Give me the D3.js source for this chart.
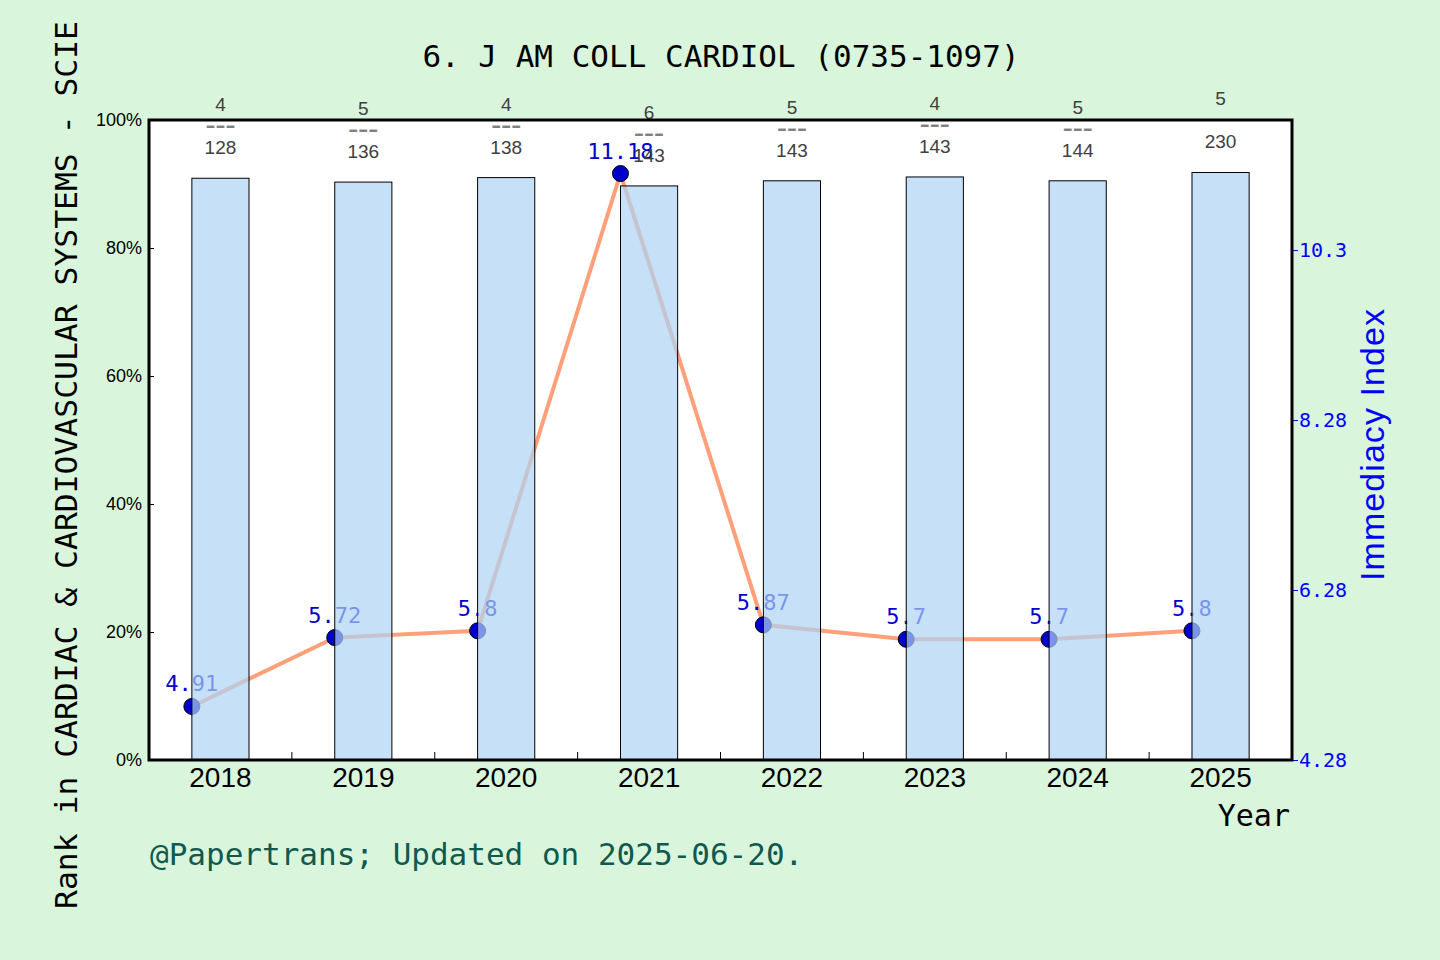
<!doctype html>
<html lang="en">
  <head>
    <meta charset="UTF-8" />
    <title>J AM COLL CARDIOL rank and immediacy index</title>
    <script src="https://d3js.org/d3.v7.min.js"></script>
    <style>
      body {
        margin: 0;
        background: #d9f6dd;
      }
      .mono {
        font-family: 'DejaVu Sans Mono', monospace;
      }
      .sans {
        font-family: 'Liberation Sans', Arial, sans-serif;
      }
      .left-axis .tick text {
        font-family: 'Liberation Sans', Arial, sans-serif;
        font-size: 18px;
        fill: #000;
      }
      .right-axis .tick text {
        font-family: 'DejaVu Sans Mono', monospace;
        font-size: 20px;
        fill: #0000ff;
      }
      .right-axis .tick line {
        stroke: #0000ff;
      }
      .x-axis .tick text {
        font-family: 'Liberation Sans', Arial, sans-serif;
        font-size: 28px;
        fill: #000;
      }
    </style>
  </head>
  <body>
    <svg id="chart"></svg>
    <script>
      // values
      const years = ['2018', '2019', '2020', '2021', '2022', '2023', '2024', '2025']
      const ranks = [4, 5, 4, 6, 5, 4, 5, 5]
      const totals = [128, 136, 138, 143, 143, 143, 144, 230]
      const dashes = ['---', '---', '---', '---', '---', '---', '---', '']
      const rankPct = [90.9, 90.3, 91.0, 89.7, 90.5, 91.1, 90.5, 91.8]
      const immediacy = [4.91, 5.72, 5.8, 11.18, 5.87, 5.7, 5.7, 5.8]
      const pctTicks = [0, 20, 40, 60, 80, 100]
      const immTicks = [4.28, 6.28, 8.28, 10.28]
      const immDomain = [4.28, 11.81]

      const W = 1440
      const H = 960
      const margin = { top: 120, right: 148, bottom: 200, left: 149 }
      const width = W - margin.left - margin.right
      const height = H - margin.top - margin.bottom

      const root = d3.select('#chart').attr('width', W).attr('height', H)
      root.append('rect').attr('width', W).attr('height', H).attr('fill', '#d9f6dd')

      const svg = root.append('g').attr('transform', `translate(${margin.left},${margin.top})`)

      const x = d3.scaleBand().domain(years).range([0, width]).paddingInner(0).paddingOuter(0)
      const y = d3.scaleLinear().domain([0, 100]).range([height, 0])
      const y2 = d3.scaleLinear().domain(immDomain).range([height, 0])

      const barW = x.step() * 0.4
      const ptX = (i) => x(years[i]) + x.bandwidth() / 2 - barW / 2

      svg.append('rect').attr('width', width).attr('height', height).attr('fill', '#fff')

      // immediacy line
      const line = d3
        .line()
        .x((d, i) => ptX(i))
        .y((d) => y2(d))
      svg
        .append('path')
        .datum(immediacy)
        .attr('d', line)
        .attr('fill', 'none')
        .attr('stroke', '#ffa07a')
        .attr('stroke-width', 4)

      svg
        .selectAll('.pt')
        .data(immediacy)
        .enter()
        .append('circle')
        .attr('class', 'pt')
        .attr('cx', (d, i) => ptX(i))
        .attr('cy', (d) => y2(d))
        .attr('r', 8)
        .attr('fill', '#0000cd')
        .attr('stroke', '#000')
        .attr('stroke-width', 1)

      svg
        .selectAll('.pt-label')
        .data(immediacy)
        .enter()
        .append('text')
        .attr('class', 'pt-label mono')
        .attr('x', (d, i) => ptX(i))
        .attr('y', (d) => y2(d) - 15)
        .attr('text-anchor', 'middle')
        .attr('font-size', 22)
        .attr('fill', '#0000cd')
        .text((d) => d)

      // rank bars, semi-transparent on top of the line
      svg
        .selectAll('.bar')
        .data(rankPct)
        .enter()
        .append('rect')
        .attr('class', 'bar')
        .attr('x', (d, i) => ptX(i))
        .attr('y', (d) => y(d))
        .attr('width', barW)
        .attr('height', (d) => height - y(d))
        .attr('fill', 'rgb(173,211,244)')
        .attr('fill-opacity', 0.7)
        .attr('stroke', '#000')
        .attr('stroke-width', 1)

      // rank / total labels above bars
      const lab = svg
        .selectAll('.rank-label')
        .data(rankPct)
        .enter()
        .append('g')
        .attr('class', 'rank-label sans')
        .attr('transform', (d, i) => `translate(${x(years[i]) + x.bandwidth() / 2},${y(d)})`)
      lab
        .append('text')
        .attr('y', -67)
        .attr('text-anchor', 'middle')
        .attr('font-size', 19)
        .attr('fill', '#404040')
        .text((d, i) => ranks[i])
      lab
        .append('text')
        .attr('y', -46)
        .attr('text-anchor', 'middle')
        .attr('font-size', 20)
        .attr('font-weight', 'bold')
        .attr('fill', '#808080')
        .attr('textLength', (d, i) => (dashes[i] ? 30 : null))
        .attr('lengthAdjust', 'spacingAndGlyphs')
        .text((d, i) => dashes[i])
      lab
        .append('text')
        .attr('y', -24)
        .attr('text-anchor', 'middle')
        .attr('font-size', 19)
        .attr('fill', '#404040')
        .text((d, i) => totals[i])

      // axes
      const leftAxis = svg
        .append('g')
        .attr('class', 'left-axis')
        .call(
          d3
            .axisLeft(y)
            .tickValues(pctTicks)
            .tickSize(-5)
            .tickPadding(7)
            .tickFormat((d) => d + '%')
        )
      leftAxis.select('.domain').remove()
      leftAxis.selectAll('.tick line').attr('stroke', '#000')

      const rightAxis = svg
        .append('g')
        .attr('class', 'right-axis')
        .attr('transform', `translate(${width},0)`)
        .call(d3.axisRight(y2).tickValues(immTicks).tickSize(6).tickPadding(1).tickFormat(d3.format('.3')))
      rightAxis.select('.domain').remove()

      const xAxis = svg
        .append('g')
        .attr('class', 'x-axis')
        .attr('transform', `translate(0,${height})`)
        .call(d3.axisBottom(x).tickSize(0).tickPadding(7))
      xAxis.select('.domain').remove()

      // small ticks on the category boundaries
      svg
        .selectAll('.bnd')
        .data(years.slice(1))
        .enter()
        .append('line')
        .attr('x1', (d) => x(d))
        .attr('x2', (d) => x(d))
        .attr('y1', height)
        .attr('y2', height - 8)
        .attr('stroke', '#000')

      // frame
      svg
        .append('rect')
        .attr('width', width)
        .attr('height', height)
        .attr('fill', 'none')
        .attr('stroke', '#000')
        .attr('stroke-width', 3)

      // titles
      root
        .append('text')
        .attr('class', 'mono')
        .attr('x', 721)
        .attr('y', 67)
        .attr('text-anchor', 'middle')
        .attr('font-size', 31)
        .attr('fill', '#000')
        .text('6. J AM COLL CARDIOL (0735-1097)')

      root
        .append('text')
        .attr('class', 'mono')
        .attr('transform', 'translate(77,465) rotate(-90)')
        .attr('text-anchor', 'middle')
        .attr('font-size', 31)
        .attr('textLength', 888)
        .attr('lengthAdjust', 'spacingAndGlyphs')
        .attr('fill', '#000')
        .text('Rank in CARDIAC & CARDIOVASCULAR SYSTEMS - SCIE')

      root
        .append('text')
        .attr('class', 'sans')
        .attr('transform', `translate(1384,${margin.top + height / 2 + 5}) rotate(-90)`)
        .attr('text-anchor', 'middle')
        .attr('font-size', 34)
        .attr('textLength', 272)
        .attr('fill', '#0000ff')
        .text('Immediacy Index')

      root
        .append('text')
        .attr('class', 'mono')
        .attr('x', margin.left + width - 2)
        .attr('y', 826)
        .attr('text-anchor', 'end')
        .attr('font-size', 30)
        .attr('fill', '#000')
        .text('Year')

      root
        .append('text')
        .attr('class', 'mono')
        .attr('x', 150)
        .attr('y', 865)
        .attr('font-size', 31)
        .attr('fill', '#11594f')
        .text('@Papertrans; Updated on 2025-06-20.')
    </script>
  </body>
</html>
